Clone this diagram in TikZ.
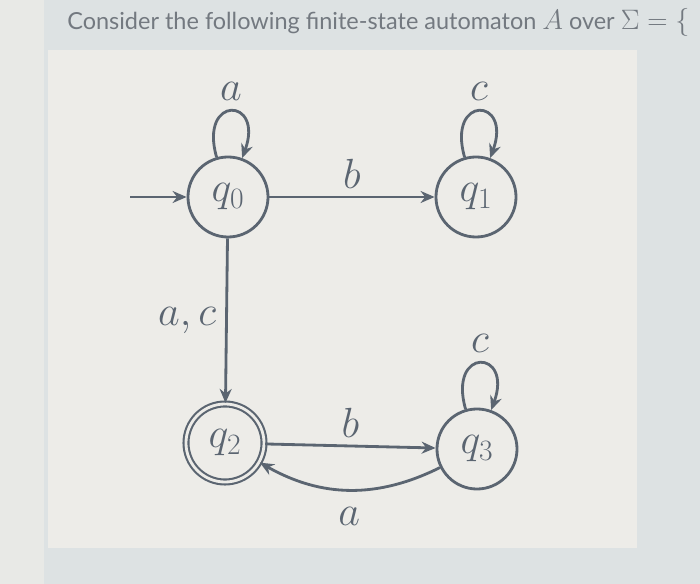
\RequirePackage{fix-cm}
\documentclass[tikz,border=0pt]{standalone}
\usepackage{amsmath,amssymb}
\usepackage{fontspec}
\newfontfamily\titlefont{Lato}
\usetikzlibrary{arrows.meta,positioning,automata}

\definecolor{inkgray}{HTML}{5B6571}
\definecolor{screenbg}{HTML}{DDE2E3}
\definecolor{edgebg}{HTML}{E8E9E6}
\definecolor{panelbg}{HTML}{EDECE8}
\definecolor{titlegray}{HTML}{737980}

\newcommand{\bigmath}[1]{{\fontsize{20}{22}\selectfont$#1$}}

\begin{document}
\begin{tikzpicture}[
  x=0.025cm, y=-0.025cm,
  state/.style={circle, draw=inkgray, line width=2pt, minimum size=2cm, inner sep=0pt, font=\fontsize{30}{33}\selectfont, text=inkgray},
  final/.style={state, minimum size=1.95cm, double=panelbg, double distance=2pt, line width=1.5pt},
  edge/.style={draw=inkgray, line width=2pt, -{Stealth[length=3.5mm, width=3mm]}},
  lbl/.style={font=\fontsize{30}{33}\selectfont, text=inkgray}
]
  % screen, photo edge and white panel
  \useasboundingbox (0,0) rectangle (700,584);
  \clip (0,0) rectangle (700,584);
  \fill[screenbg] (0,0) rectangle (700,584);
  \fill[edgebg] (0,0) rectangle (44,584);
  \fill[panelbg] (48,50) rectangle (637,548);

  \node[anchor=base west, text=titlegray, inner sep=0pt, font=\titlefont\fontsize{16.7}{20}\selectfont]
    (title) at (67,30) {Consider the following finite-state automaton \bigmath{A} over \bigmath{\Sigma = \{}};

  % states
  \node[state] (q0) at (228,197) {$q_0$};
  \node[state] (q1) at (476,197) {$q_1$};
  \node[final] (q2) at (225,443) {$q_2$};
  \node[state] (q3) at (477,449) {$q_3$};
  \coordinate (start) at (130,197);

  % transitions
  \draw[edge] (start) -- (q0);
  \draw[edge] (q0) to[out=106, in=70, looseness=6.5] node[lbl, above=3pt] {$a$} (q0);
  \draw[edge] (q1) to[out=106, in=70, looseness=6.5] node[lbl, above=3pt] {$c$} (q1);
  \draw[edge] (q3) to[out=106, in=70, looseness=6.5] node[lbl, above=3pt] {$c$} (q3);
  \draw[edge] (q0) -- node[lbl, above=2pt] {$b$} (q1);
  \draw[edge] (q0) -- node[lbl, left=3pt] {$a,c$} (q2);
  \draw[edge] (q2) -- node[lbl, above=2pt] {$b$} (q3);
  \draw[edge] (q3) to[bend left=28] node[lbl, below=8pt] {$a$} (q2);
\end{tikzpicture}
\end{document}
